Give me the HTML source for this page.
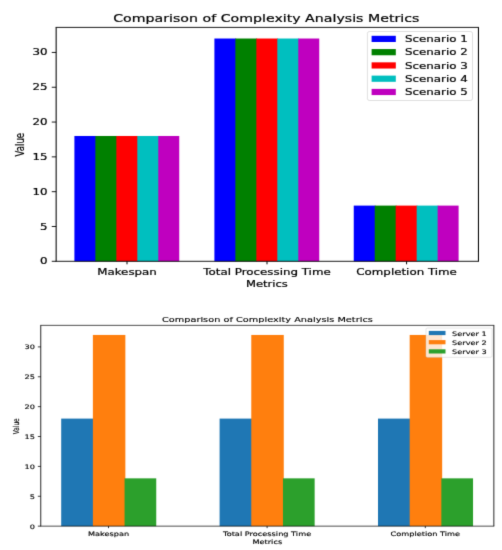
<!DOCTYPE html>
<html lang="en"><head><meta charset="utf-8"><title>Comparison of Complexity Analysis Metrics</title>
<style>html,body{margin:0;padding:0;background:#fff;}svg{display:block;}text{font-family:"DejaVu Sans", "Liberation Sans", sans-serif;fill:#000;stroke:#000;stroke-width:var(--w);stroke-linejoin:round;}</style>
</head><body>
<svg width="502" height="550" viewBox="0 0 502 550">
<defs><filter id="soft" x="0" y="0" width="502" height="550" filterUnits="userSpaceOnUse" color-interpolation-filters="sRGB"><feConvolveMatrix order="3" kernelMatrix="0.011 0.084 0.011 0.084 0.62 0.084 0.011 0.084 0.011" divisor="1" edgeMode="duplicate" preserveAlpha="true"/></filter></defs>
<rect x="0" y="0" width="502" height="550" fill="#ffffff"/>
<g filter="url(#soft)">
<rect x="-5" y="-5" width="512" height="560" fill="#ffffff"/>
<g stroke="#000" stroke-width="0"><g class="t" style="--w:0.2">
<rect x="74.40" y="135.98" width="21.77" height="125.32" fill="#0000ff"/>
<rect x="95.37" y="135.98" width="21.77" height="125.32" fill="#008000"/>
<rect x="116.34" y="135.98" width="21.77" height="125.32" fill="#ff0000"/>
<rect x="137.31" y="135.98" width="21.77" height="125.32" fill="#00bfbf"/>
<rect x="158.28" y="135.98" width="20.97" height="125.32" fill="#bf00bf"/>
<rect x="214.40" y="38.52" width="21.77" height="222.78" fill="#0000ff"/>
<rect x="235.37" y="38.52" width="21.77" height="222.78" fill="#008000"/>
<rect x="256.34" y="38.52" width="21.77" height="222.78" fill="#ff0000"/>
<rect x="277.31" y="38.52" width="21.77" height="222.78" fill="#00bfbf"/>
<rect x="298.28" y="38.52" width="20.97" height="222.78" fill="#bf00bf"/>
<rect x="353.75" y="205.60" width="21.77" height="55.70" fill="#0000ff"/>
<rect x="374.72" y="205.60" width="21.77" height="55.70" fill="#008000"/>
<rect x="395.69" y="205.60" width="21.77" height="55.70" fill="#ff0000"/>
<rect x="416.66" y="205.60" width="21.77" height="55.70" fill="#00bfbf"/>
<rect x="437.63" y="205.60" width="20.97" height="55.70" fill="#bf00bf"/>
<line x1="55.62" y1="27.40" x2="478.97" y2="27.40" stroke="#000" stroke-width="0.90"/>
<line x1="55.62" y1="261.30" x2="478.97" y2="261.30" stroke="#000" stroke-width="0.90"/>
<line x1="56.15" y1="27.40" x2="56.15" y2="261.30" stroke="#000" stroke-width="1.05"/>
<line x1="478.45" y1="27.40" x2="478.45" y2="261.30" stroke="#000" stroke-width="1.05"/>
<line x1="51.75" y1="261.30" x2="56.15" y2="261.30" stroke="#000" stroke-width="0.90"/>
<text transform="translate(47.45,264.35) scale(1.4100,1)" font-size="8.40" text-anchor="end">0</text>
<line x1="51.75" y1="226.49" x2="56.15" y2="226.49" stroke="#000" stroke-width="0.90"/>
<text transform="translate(47.45,229.54) scale(1.4100,1)" font-size="8.40" text-anchor="end">5</text>
<line x1="51.75" y1="191.68" x2="56.15" y2="191.68" stroke="#000" stroke-width="0.90"/>
<text transform="translate(47.45,194.73) scale(1.4100,1)" font-size="8.40" text-anchor="end">10</text>
<line x1="51.75" y1="156.87" x2="56.15" y2="156.87" stroke="#000" stroke-width="0.90"/>
<text transform="translate(47.45,159.92) scale(1.4100,1)" font-size="8.40" text-anchor="end">15</text>
<line x1="51.75" y1="122.06" x2="56.15" y2="122.06" stroke="#000" stroke-width="0.90"/>
<text transform="translate(47.45,125.11) scale(1.4100,1)" font-size="8.40" text-anchor="end">20</text>
<line x1="51.75" y1="87.25" x2="56.15" y2="87.25" stroke="#000" stroke-width="0.90"/>
<text transform="translate(47.45,90.30) scale(1.4100,1)" font-size="8.40" text-anchor="end">25</text>
<line x1="51.75" y1="52.44" x2="56.15" y2="52.44" stroke="#000" stroke-width="0.90"/>
<text transform="translate(47.45,55.49) scale(1.4100,1)" font-size="8.40" text-anchor="end">30</text>
<line x1="127.00" y1="261.30" x2="127.00" y2="264.30" stroke="#000" stroke-width="1.00"/>
<text transform="translate(127.00,274.80) scale(1.3330,1)" font-size="8.90" text-anchor="middle">Makespan</text>
<line x1="267.00" y1="261.30" x2="267.00" y2="264.30" stroke="#000" stroke-width="1.00"/>
<text transform="translate(267.00,274.80) scale(1.3330,1)" font-size="8.90" text-anchor="middle">Total Processing Time</text>
<line x1="406.60" y1="261.30" x2="406.60" y2="264.30" stroke="#000" stroke-width="1.00"/>
<text transform="translate(406.60,274.80) scale(1.3330,1)" font-size="8.90" text-anchor="middle">Completion Time</text>
<text transform="translate(266.90,286.70) scale(1.3000,1)" font-size="8.90" text-anchor="middle">Metrics</text>
<text transform="translate(24.10,144.65) rotate(-90) scale(0.7480,1)" font-size="11.50" text-anchor="middle">Value</text>
<text transform="translate(266.30,21.95) scale(1.3240,1)" font-size="10.70" text-anchor="middle">Comparison of Complexity Analysis Metrics</text>
<rect x="367.40" y="31.50" width="105.10" height="69.00" rx="2.30" ry="1.80" fill="#ffffff" fill-opacity="0.8" stroke="#cccccc" stroke-opacity="0.8" stroke-width="0.80"/>
<rect x="371.60" y="35.80" width="24.20" height="6.20" fill="#0000ff"/>
<text transform="translate(405.00,42.00) scale(1.3330,1)" font-size="8.90" text-anchor="start">Scenario 1</text>
<rect x="371.60" y="49.07" width="24.20" height="6.20" fill="#008000"/>
<text transform="translate(405.00,55.27) scale(1.3330,1)" font-size="8.90" text-anchor="start">Scenario 2</text>
<rect x="371.60" y="62.34" width="24.20" height="6.20" fill="#ff0000"/>
<text transform="translate(405.00,68.54) scale(1.3330,1)" font-size="8.90" text-anchor="start">Scenario 3</text>
<rect x="371.60" y="75.61" width="24.20" height="6.20" fill="#00bfbf"/>
<text transform="translate(405.00,81.81) scale(1.3330,1)" font-size="8.90" text-anchor="start">Scenario 4</text>
<rect x="371.60" y="88.88" width="24.20" height="6.20" fill="#bf00bf"/>
<text transform="translate(405.00,95.08) scale(1.3330,1)" font-size="8.90" text-anchor="start">Scenario 5</text>
</g></g>
<g stroke="#000" stroke-width="0"><g class="t" style="--w:0.13">
<rect x="61.20" y="418.60" width="32.48" height="107.55" fill="#1f77b4"/>
<rect x="92.88" y="334.95" width="32.48" height="191.20" fill="#ff7f0e"/>
<rect x="124.56" y="478.35" width="31.68" height="47.80" fill="#2ca02c"/>
<rect x="219.60" y="418.60" width="32.48" height="107.55" fill="#1f77b4"/>
<rect x="251.28" y="334.95" width="32.48" height="191.20" fill="#ff7f0e"/>
<rect x="282.96" y="478.35" width="31.68" height="47.80" fill="#2ca02c"/>
<rect x="378.00" y="418.60" width="32.48" height="107.55" fill="#1f77b4"/>
<rect x="409.68" y="334.95" width="32.48" height="191.20" fill="#ff7f0e"/>
<rect x="441.36" y="478.35" width="31.68" height="47.80" fill="#2ca02c"/>
<line x1="40.33" y1="325.35" x2="494.28" y2="325.35" stroke="#000" stroke-width="0.70"/>
<line x1="40.33" y1="526.15" x2="494.28" y2="526.15" stroke="#000" stroke-width="0.70"/>
<line x1="40.75" y1="325.35" x2="40.75" y2="526.15" stroke="#000" stroke-width="0.85"/>
<line x1="493.85" y1="325.35" x2="493.85" y2="526.15" stroke="#000" stroke-width="0.85"/>
<line x1="37.85" y1="526.15" x2="40.75" y2="526.15" stroke="#000" stroke-width="0.75"/>
<text transform="translate(34.85,528.55) scale(1.3450,1)" font-size="6.10" text-anchor="end">0</text>
<line x1="37.85" y1="496.27" x2="40.75" y2="496.27" stroke="#000" stroke-width="0.75"/>
<text transform="translate(34.85,498.67) scale(1.3450,1)" font-size="6.10" text-anchor="end">5</text>
<line x1="37.85" y1="466.40" x2="40.75" y2="466.40" stroke="#000" stroke-width="0.75"/>
<text transform="translate(34.85,468.80) scale(1.3450,1)" font-size="6.10" text-anchor="end">10</text>
<line x1="37.85" y1="436.52" x2="40.75" y2="436.52" stroke="#000" stroke-width="0.75"/>
<text transform="translate(34.85,438.92) scale(1.3450,1)" font-size="6.10" text-anchor="end">15</text>
<line x1="37.85" y1="406.65" x2="40.75" y2="406.65" stroke="#000" stroke-width="0.75"/>
<text transform="translate(34.85,409.05) scale(1.3450,1)" font-size="6.10" text-anchor="end">20</text>
<line x1="37.85" y1="376.77" x2="40.75" y2="376.77" stroke="#000" stroke-width="0.75"/>
<text transform="translate(34.85,379.17) scale(1.3450,1)" font-size="6.10" text-anchor="end">25</text>
<line x1="37.85" y1="346.90" x2="40.75" y2="346.90" stroke="#000" stroke-width="0.75"/>
<text transform="translate(34.85,349.30) scale(1.3450,1)" font-size="6.10" text-anchor="end">30</text>
<line x1="108.50" y1="526.15" x2="108.50" y2="528.15" stroke="#000" stroke-width="0.80"/>
<text transform="translate(108.50,535.60) scale(1.3450,1)" font-size="6.10" text-anchor="middle">Makespan</text>
<line x1="267.10" y1="526.15" x2="267.10" y2="528.15" stroke="#000" stroke-width="0.80"/>
<text transform="translate(267.10,535.60) scale(1.3450,1)" font-size="6.10" text-anchor="middle">Total Processing Time</text>
<line x1="425.30" y1="526.15" x2="425.30" y2="528.15" stroke="#000" stroke-width="0.80"/>
<text transform="translate(425.30,535.60) scale(1.3450,1)" font-size="6.10" text-anchor="middle">Completion Time</text>
<text transform="translate(267.30,544.10) scale(1.3450,1)" font-size="6.10" text-anchor="middle">Metrics</text>
<text transform="translate(19.00,426.30) rotate(-90) scale(0.7060,1)" font-size="8.20" text-anchor="middle">Value</text>
<text transform="translate(267.40,321.60) scale(1.2520,1)" font-size="7.80" text-anchor="middle">Comparison of Complexity Analysis Metrics</text>
<rect x="426.00" y="328.00" width="66.00" height="29.30" rx="1.60" ry="1.20" fill="#ffffff" fill-opacity="0.8" stroke="#cccccc" stroke-opacity="0.8" stroke-width="0.60"/>
<rect x="428.80" y="330.90" width="16.70" height="4.20" fill="#1f77b4"/>
<text transform="translate(452.10,335.90) scale(1.3450,1)" font-size="6.10" text-anchor="start">Server 1</text>
<rect x="428.80" y="340.10" width="16.70" height="4.20" fill="#ff7f0e"/>
<text transform="translate(452.10,345.10) scale(1.3450,1)" font-size="6.10" text-anchor="start">Server 2</text>
<rect x="428.80" y="349.30" width="16.70" height="4.20" fill="#2ca02c"/>
<text transform="translate(452.10,354.30) scale(1.3450,1)" font-size="6.10" text-anchor="start">Server 3</text>
</g></g>
</g>
</svg>
</body></html>
